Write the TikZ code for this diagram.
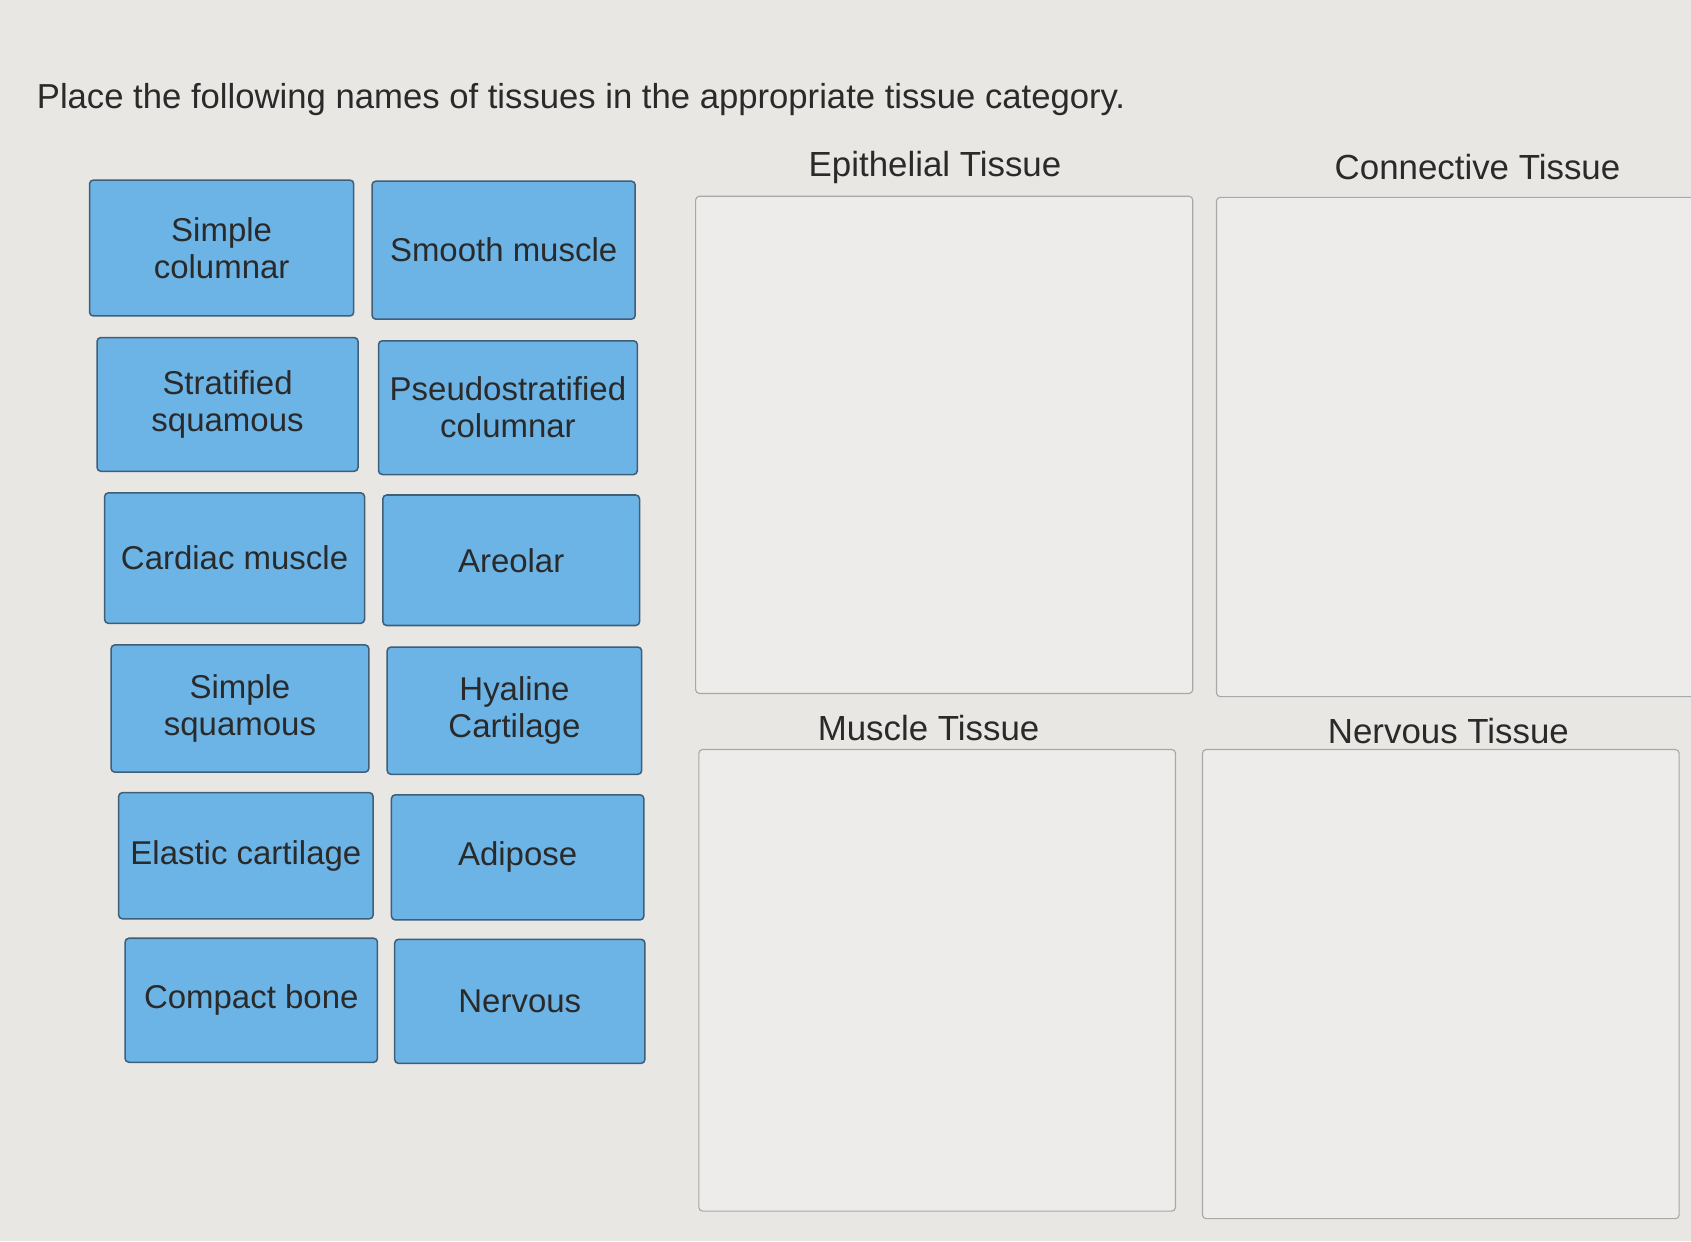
\documentclass[tikz,border=0pt]{standalone}
\usepackage{fontspec}
\setmainfont{Liberation Sans}
\definecolor{bg}{HTML}{E9E7E4}
\definecolor{tile}{HTML}{6DB4E6}
\definecolor{tileb}{HTML}{3F5E78}
\definecolor{zone}{HTML}{EDECEA}
\definecolor{zoneb}{HTML}{A8A8A8}
\definecolor{txt}{HTML}{2A2A2A}
\begin{document}
\begin{tikzpicture}[x=0.02cm,y=-0.02cm,
  tilebox/.style={draw=tileb,fill=tile,line width=0.8pt,rounded corners=2pt},
  zonebox/.style={draw=zoneb,fill=zone,line width=0.6pt,rounded corners=2pt},
  lab/.style={text=txt,font=\fontsize{17.4}{19.5}\selectfont,align=center},
  head/.style={text=txt,font=\fontsize{18.4}{21}\selectfont},
  ttl/.style={text=txt,font=\fontsize{18.3}{21}\selectfont}]
\useasboundingbox (0,0) rectangle (1568,1151);
\fill[bg] (0,0) rectangle (1568,1151);
\node[ttl,anchor=west] (title) at (28,92) {Place the following names of tissues in the appropriate tissue category.};
\draw[zonebox] (645,182) rectangle (1106,643);
\draw[zonebox] (1128,183) rectangle (1580,646);
\draw[zonebox] (648,695) rectangle (1090,1123);
\draw[zonebox] (1115,695) rectangle (1557,1130);
\node[head] (h1) at (867,155) {Epithelial Tissue};
\node[head] (h2) at (1370,155) {Connective Tissue};
\node[head] (h3) at (861,675) {Muscle Tissue};
\node[head] (h4) at (1343,678) {Nervous Tissue};
\foreach \a/\b/\c/\d/\t/\n in {
 83/167/328/293/{Simple\\columnar}/t1,
 90/313/332/437/{Stratified\\squamous}/t2,
 97/457/338/578/{Cardiac muscle}/t3,
 103/598/342/716/{Simple\\squamous}/t4,
 110/735/346/852/{Elastic cartilage}/t5,
 116/870/350/985/{Compact bone}/t6,
 345/168/589/296/{Smooth muscle}/t7,
 351/316/591/440/{Pseudostratified\\columnar}/t8,
 355/459/593/580/{Areolar}/t9,
 359/600/595/718/{Hyaline\\Cartilage}/t10,
 363/737/597/853/{Adipose}/t11,
 366/871/598/986/{Nervous}/t12}{
  \draw[tilebox] (\a,\b) rectangle (\c,\d);
  \node[lab] (\n) at ({(\a+\c)/2},{(\b+\d)/2}) {\t};
}
\end{tikzpicture}
\end{document}
